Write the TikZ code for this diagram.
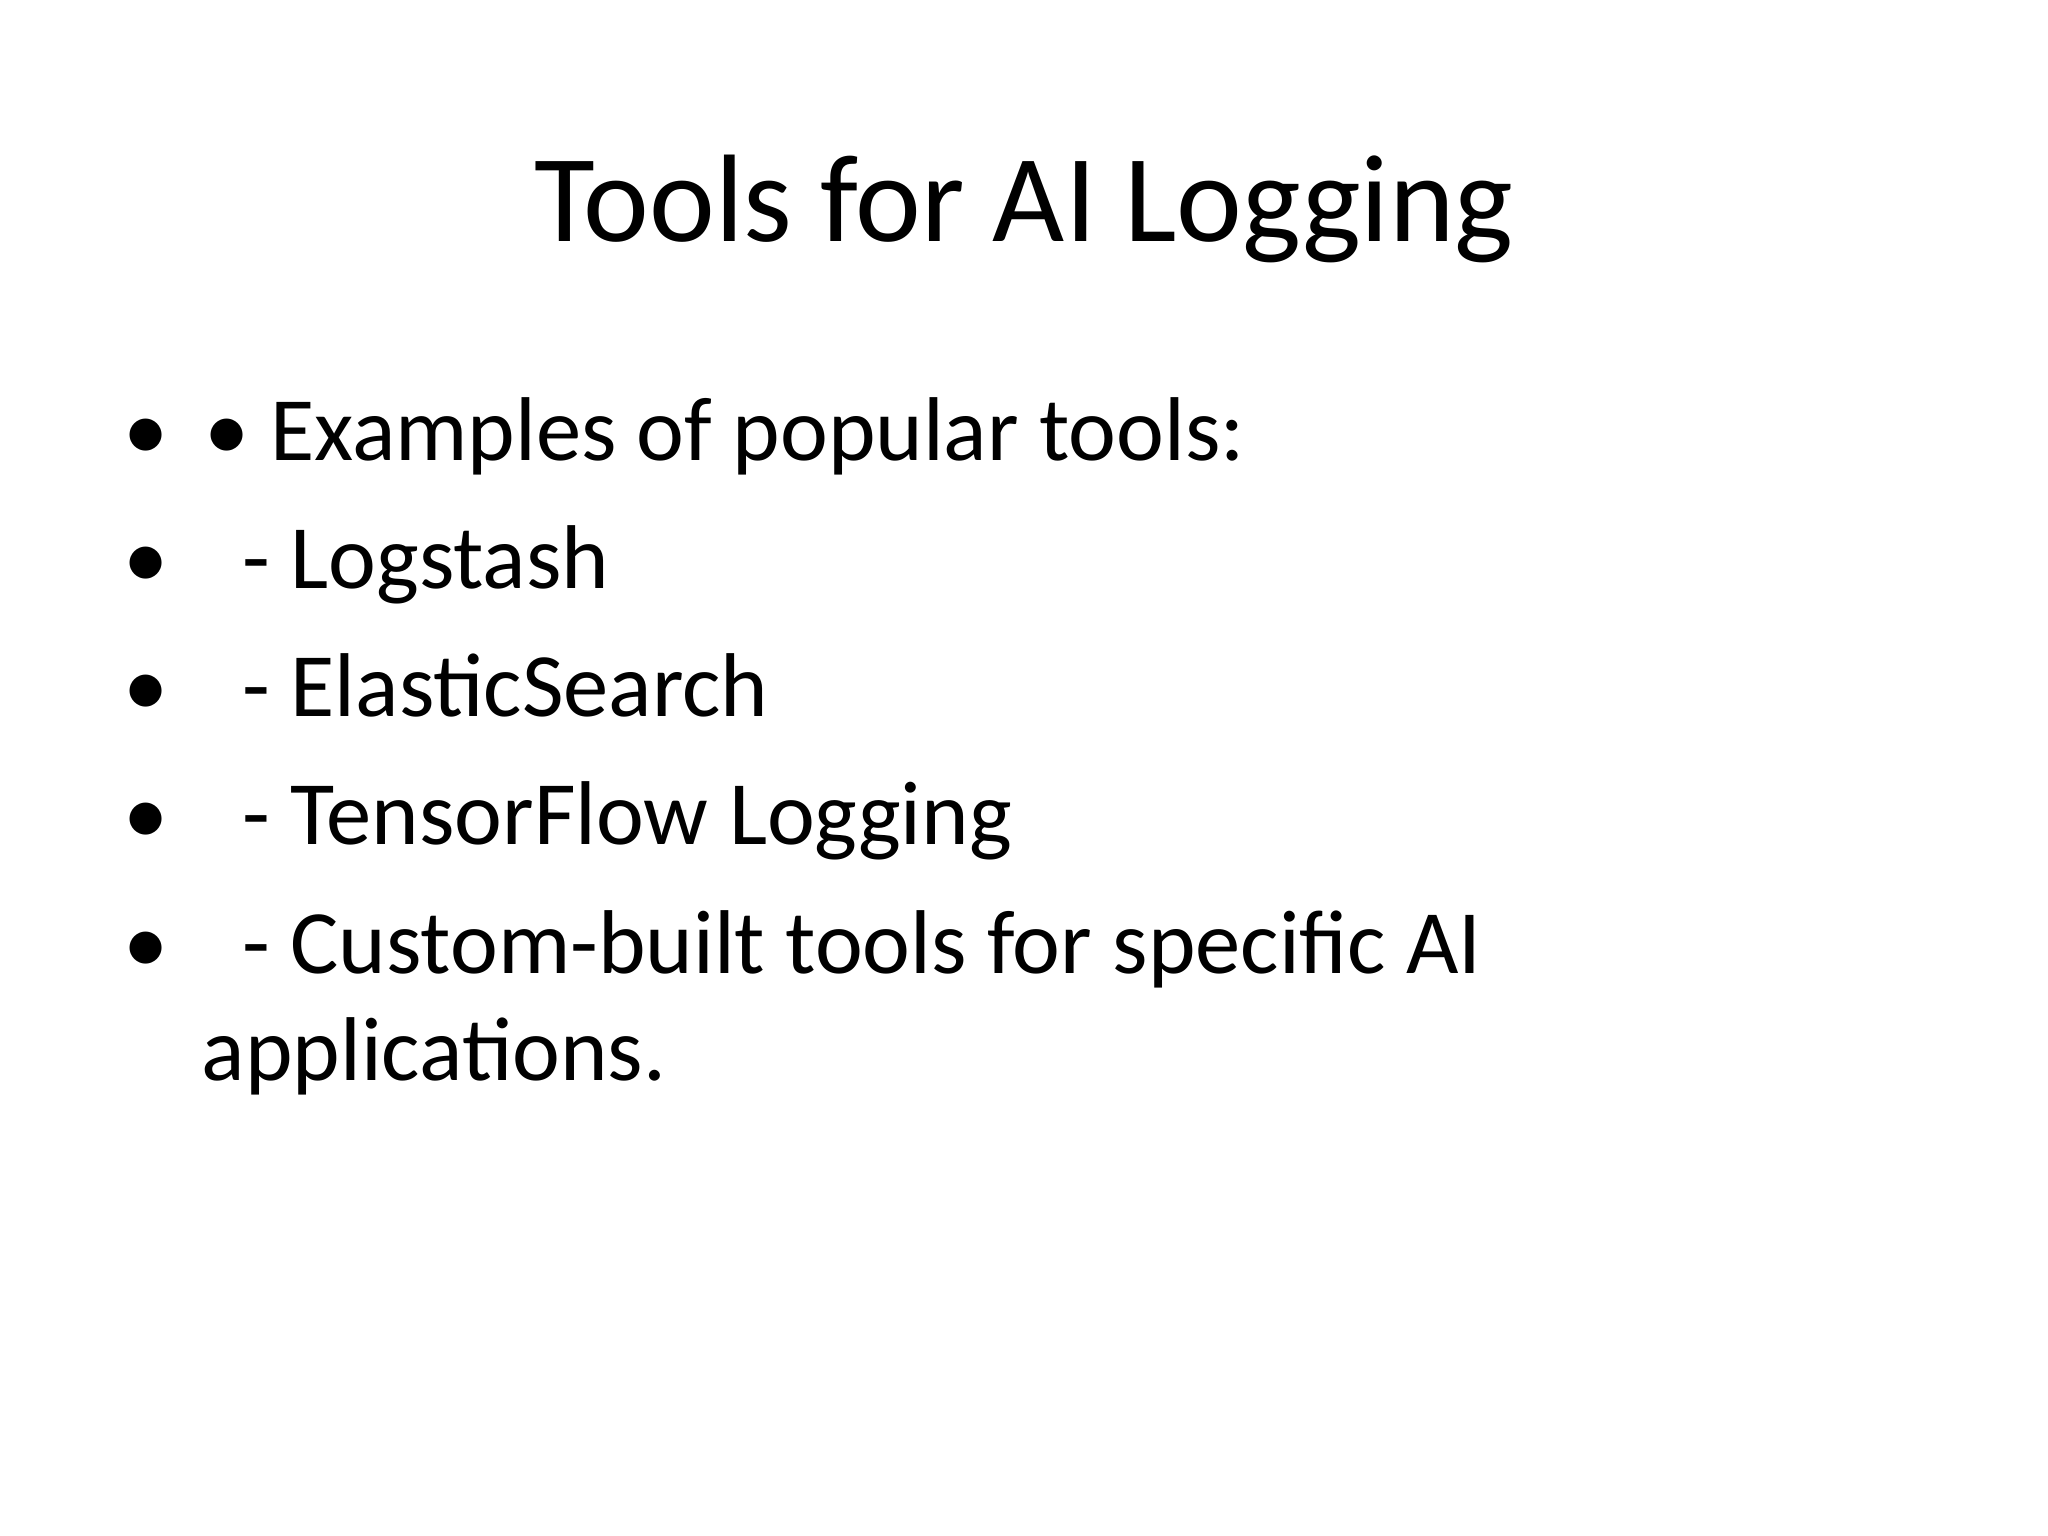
\documentclass[tikz,border=0pt]{standalone}
\usepackage{fontspec}
\setmainfont{Carlito}
\begin{document}
\begin{tikzpicture}[x=0.006386in,y=-0.006386in,
  body/.style={anchor=base west,inner sep=0pt,font=\fontsize{32}{38}\selectfont},
  bul/.style={anchor=base west,inner sep=0pt,font=\fontsize{32}{38}\selectfont}]
\useasboundingbox[fill=white] (0,0) rectangle (1566,1174.5);
\node[anchor=base,inner sep=0pt,font=\fontsize{44}{52}\selectfont] (title) at (783,185) {Tools for AI Logging};
\foreach \y/\n in {352/a,450/b,548/c,646/d,744/e}{
  \node[bul] (b\n) at (94,\y) {•};
}
\node[body] (t1) at (156,352) {• Examples of popular tools:};
\node[body] (t2) at (185,450) {- Logstash};
\node[body] (t3) at (185,548) {- ElasticSearch};
\node[body] (t4) at (185,646) {- TensorFlow Logging};
\node[body] (t5) at (185,744) {- Custom-built tools for specific AI};
\node[body] (t6) at (154,826) {applications.};
\end{tikzpicture}
\end{document}
